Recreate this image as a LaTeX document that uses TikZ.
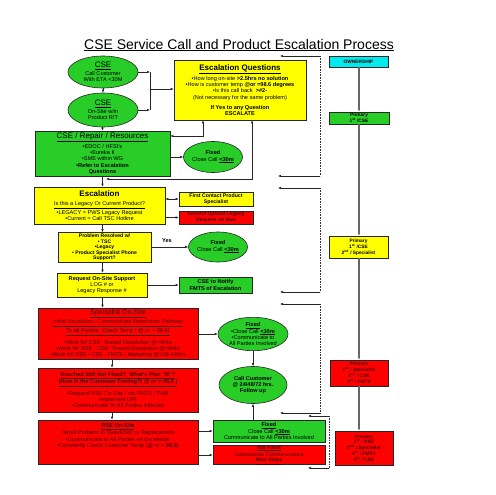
\documentclass[tikz,border=0pt]{standalone}
\usepackage{fontspec}
\setmainfont{Liberation Sans}
\usetikzlibrary{shapes.geometric,arrows.meta}
\definecolor{cgreen}{RGB}{40,205,40}
\definecolor{cyellow}{RGB}{255,255,0}
\definecolor{cred}{RGB}{255,0,0}
\definecolor{ccyan}{RGB}{0,235,235}
\definecolor{redtext}{RGB}{70,0,0}
\newcommand\tfs{\fontsize{5.6}{6.3}\selectfont}
\newcommand\hfs{\fontsize{8}{9}\selectfont}
\newcommand\ofs{\fontsize{4.8}{5.8}\selectfont}
\newcommand\bfs{\fontsize{5.2}{6}\selectfont}
\newcommand\pfs{\fontsize{5.1}{5.5}\selectfont}
\tikzset{
  boxbase/.style={draw=black!85, line width=0.6pt, inner sep=0pt, align=center, font=\tfs},
  ybox/.style={boxbase, fill=cyellow},
  gbox/.style={boxbase, fill=cgreen},
  rbox/.style={boxbase, fill=cred, text=redtext},
  cbox/.style={boxbase, fill=ccyan},
  ell/.style={ellipse, draw=black!85, line width=0.6pt, fill=cgreen, inner sep=0pt, align=center, font=\tfs},
  obox/.style={boxbase, font=\ofs\bfseries},
  arr/.style={-{Latex[length=3pt,width=2.6pt]}, line width=0.6pt, black!85},
  arrboth/.style={{Latex[length=3pt,width=2.6pt]}-{Latex[length=3pt,width=2.6pt]}, line width=0.6pt, black!85},
  garr/.style={-{Latex[length=3pt,width=2.6pt]}, line width=1.1pt, black!60},
  dotline/.style={densely dotted, line width=0.6pt, black!80},
  plain/.style={line width=0.6pt, black!85}
}
\begin{document}
\begin{tikzpicture}[x=1pt,y=-1pt]
\useasboundingbox (0,0) rectangle (495,495);

\node[font=\fontsize{14}{16}\selectfont] (title) at (239,45) {\underline{CSE Service Call and Product Escalation Process}};

% column coordinates
\coordinate (colA) at (102.5,0);
\coordinate (colB) at (112,0);
\coordinate (colC) at (359,0);

% top ellipses
\node[ell, minimum width=70pt, minimum height=32pt] (cse1) at (103,72) {{\hfs\underline{CSE}}\\[1.5pt]Call Customer\\With ETA <30M};
\node[ell, minimum width=70pt, minimum height=34pt] (cse2) at (103,110) {{\hfs\underline{CSE}}\\[1.5pt]On-Site w/in\\Product R/T};

% escalation questions
\node[ybox, minimum width=132pt, minimum height=60pt] (q) at (240,90) {{\hfs\textbf{\underline{Escalation Questions}}}\\[1.5pt]
•How long on-site \textbf{>2.5hrs no solution}\\
•How is customer temp \textbf{@or =98.6 degrees}\\
•Is this call back \ \textbf{>\#2-}\\
(Not necessary for the same problem)\\[4pt]
\textbf{If Yes to any Question}\\
\textbf{ESCALATE}};

% repair
\node[gbox, minimum width=135pt, minimum height=45pt] (r) at (102.5,153.5) {{\hfs\underline{CSE / Repair / Resources}}\\[1.5pt]
•EDOC / HFSI's\\ •Eureka II\\ •SME within WG\\ \textbf{•Refer to Escalation}\\ \textbf{Questions}};
\node[ell, minimum width=59pt, minimum height=31pt] (f1) at (213,157) {\textbf{Fixed}\\Close Call \textbf{\underline{<30m}}};

% escalation
\node[ybox, minimum width=131pt, minimum height=37pt] (e) at (99.5,205.5) {{\hfs\textbf{Escalation}}\\[3pt]
\underline{Is this a Legacy Or Current Product?}\\[0.8pt] •LEGACY = PWS Legacy Request\\ •Current = Call TSC Hotline};
\node[ybox, font=\bfs\bfseries, minimum width=74pt, minimum height=14pt] (fc) at (216,199) {First Contact Product\\Specialist};
\node[rbox, font=\bfs\bfseries, minimum width=74pt, minimum height=13pt] (su) at (216,217.5) {Second Upload Legacy\\Request on Bus};

% problem resolved
\node[ybox, font=\pfs\bfseries, minimum width=93pt, minimum height=30pt] (p) at (104.5,247.5) {Problem Resolved w/\\• TSC\\•Legacy\\• Product Specialist Phone\\Support?};
\node[font=\tfs\bfseries] (yes) at (167,241) {Yes};
\node[ell, minimum width=59pt, minimum height=30pt] (f2) at (218,247) {\textbf{Fixed}\\Close Call \textbf{\underline{<30m}}};

% request
\node[ybox, minimum width=90pt, minimum height=24pt] (rq) at (102,285) {\textbf{Request On-Site Support}\\LOG \# or\\Legacy Response \#};
\node[gbox, font=\tfs\bfseries, minimum width=73pt, minimum height=16pt] (n) at (215.5,285) {CSE to Notify\\FMTS of Escalation};

% specialist
\node[rbox, minimum width=160pt, minimum height=51pt] (s) at (118,333.5) {{\fontsize{7}{8}\selectfont\underline{Specialist On-Site}}\\[1pt]
\underline{Initial Escalation: Communicate Resolution Pathway}\\[0.6pt]
\underline{To all Parties. Check Temp ( @ or = 98.6)}\\[3.5pt]
•Work W/ CSE: Toward Resolution @<4Hrs\\
•Work W/ RSE : CSE: Toward Resolution @<8Hrs\\
•Work W/ RSE / CSE : FMTS / Marketing @<16-24Hrs};
\node[ell, minimum width=70pt, minimum height=28pt] (f3) at (253,334) {\textbf{\underline{Fixed}}\\[0.6pt]•Close Call \textbf{\underline{<30m}}\\•Communicate to\\All Parties Involved};
\node[ell, font=\tfs\bfseries, minimum width=68pt, minimum height=37pt] (cc) at (253,385) {Call Customer\\@ 24/48/72 hrs.\\Follow up};

% reached
\node[rbox, minimum width=160pt, minimum height=44pt] (rs) at (118,390) {\textbf{\underline{Reached Still Not Fixed?\ \ What's Plan "B"?}}\\[0.6pt]
\textbf{\underline{(How Is the Customer Feeling?( @ or = 98.6 )}}\\[3.5pt]
•Request RSE On-Site / via FMTS / PM\&\\ Implement ISR\\ •Communicate To All Parties Affected};

% RSE
\node[rbox, minimum width=160pt, minimum height=44pt] (re) at (118,442) {};
\node[align=center, font=\tfs, text=redtext, inner sep=0pt, below=4pt] (retext) at (re.north) {\textbf{\underline{RSE On-Site}}\\[0.6pt]
•Work Problem to Resolution or Replacement\\
•Communicate to All Parties on Escalation\\
•Constantly Check Customer Temp (\textbf{@} or = \textbf{98.6})};
\node[gbox, minimum width=112pt, minimum height=22pt] (fb) at (269,431) {\textbf{\underline{Fixed}}\\[0.4pt]Close Call \textbf{\underline{<30m}}\\Communicate to All Parties Involved};
\node[rbox, font=\pfs, minimum width=112pt, minimum height=18pt] (nf) at (269,455) {\textbf{\underline{Not Fixed}}\\[0.4pt]Collaborative Communications\\\textbf{\underline{Next Steps}}};

% ownership column
\node[cbox, font=\ofs\bfseries, minimum width=59pt, minimum height=11pt] (ow) at (358.5,61.5) {OWNERSHIP};
\node[gbox, obox, minimum width=60pt, minimum height=12pt] (p1) at (359,118) {Primary\\1\textsuperscript{st} /CSE};
\node[ybox, obox, minimum width=59pt, minimum height=22pt] (p2) at (358.5,247) {Primary\\1\textsuperscript{st} /CSE\\2\textsuperscript{nd} / Specialist};
\node[rbox, obox, minimum width=58pt, minimum height=26pt] (p3) at (359,373) {Primary\\1\textsuperscript{st} / Specialist\\2\textsuperscript{nd} / CSE\\3\textsuperscript{rd} / FMTS};
\node[rbox, obox, minimum width=58pt, minimum height=34pt] (p4) at (364,448) {Primary\\1\textsuperscript{st} / RSE\\2\textsuperscript{nd} / Specialist\\3\textsuperscript{rd} / FMTS\\4\textsuperscript{th} / CSE};

% connectors: top
\coordinate (b1) at (150,72);
\coordinate (b2) at (150,110);
\coordinate (b3) at (150,89);
\draw[arr] (cse1.south) -- (cse2.north);
\draw[arr] (cse1.east) -- (b1);
\draw[arr] (cse2.east) -- (b2);
\draw[plain] (b1) -- (b2);
\draw[arr] (b3) -- (b3 -| q.west);
\draw[arr] (colA |- cse2.south) -- (colA |- r.north);

\coordinate (qa) at (203,136);
\draw[arrboth] (qa |- q.south) -- (qa) -- (qa -| r.east);
\coordinate (qb) at (252,179);
\coordinate (qc) at (106,179);
\draw[arrboth] (qb |- q.south) -- (qb) -- (qc);
\draw[arr] (r.east |- f1) -- (f1.west);

\draw[arr] (colA |- r.south) -- (colA |- e.north);
\draw[arrboth] (e.east |- fc) -- (fc.west);
\draw[arr] (e.east |- su) -- (su.west);
\draw[arr] (colA |- e.south) -- (colA |- p.north);
\draw[arr] (p.east |- f2) -- (f2.west);
\draw[arr] (colA |- p.south) -- (colA |- rq.north);
\draw[arr] (rq.east) -- (rq.east -| n.west);
\draw[arr] (colA |- rq.south) -- (colA |- s.north);
\draw[arr] (s.east |- f3) -- (f3.west);
\draw[arr] (f3.south) -- (cc.north);
\draw[arr] (colB |- s.south) -- (colB |- rs.north);
\draw[arr] (colB |- rs.south) -- (colB |- re.north);
\draw[arr] (re.east |- fb) -- (fb.west);
\draw[arr] (re.east |- nf) -- (nf.west);
\draw[arr] (fb.north -| cc) -- (cc.south);

% ownership arrows
\draw[garr] (colC |- ow.south) -- (colC |- p1.north);
\draw[garr] (colC |- p1.south) -- (colC |- p2.north);
\draw[garr] (colC |- p2.south) -- (colC |- p3.north);
\draw[garr] (colC |- p3.south) -- (colC |- p4.north);

% dotted brackets
\coordinate (d1t) at (320,56);  \coordinate (d1ta) at (280,56);
\coordinate (d1b) at (320,176); \coordinate (d1ba) at (278,176);
\coordinate (d2t) at (320,188); \coordinate (d2ta) at (278,188);
\coordinate (d2b) at (320,292); \coordinate (d2ba) at (280,292);
\coordinate (d3t) at (320,304); \coordinate (d3ta) at (280,304);
\coordinate (d3b) at (320,413); \coordinate (d3ba) at (280,413);
\coordinate (d4t) at (329,416); \coordinate (d4ta) at (308,416);
\coordinate (d4b) at (329,468); \coordinate (d4ba) at (308,468);
\draw[dotline] (d1t) -- (d1b);
\draw[dotline] (d2t) -- (d2b);
\draw[dotline] (d3t) -- (d3b);
\draw[dotline] (d4t) -- (d4b);
\draw[arr] (d1t) -- (d1ta);
\draw[arr] (d1b) -- (d1ba);
\draw[arr] (d2t) -- (d2ta);
\draw[arr] (d2b) -- (d2ba);
\draw[arr] (d3t) -- (d3ta);
\draw[arr] (d3b) -- (d3ba);
\draw[arr] (d4t) -- (d4ta);
\draw[arr] (d4b) -- (d4ba);
\end{tikzpicture}
\end{document}
